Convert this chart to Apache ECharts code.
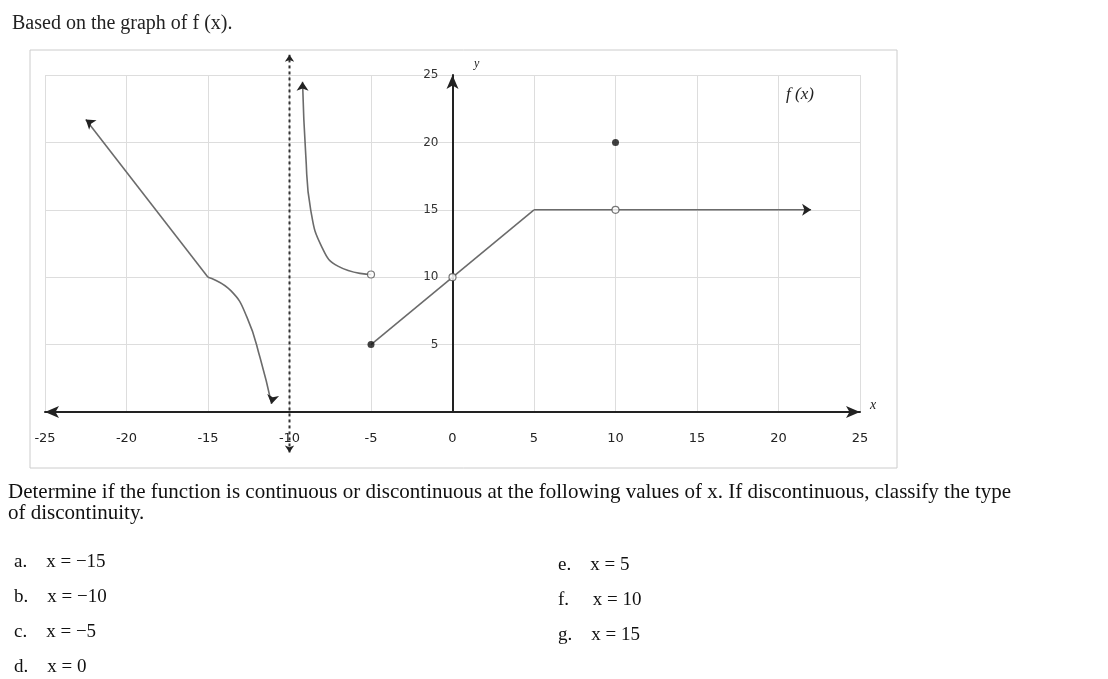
<!DOCTYPE html><html><head><meta charset="utf-8">
<script src="https://cdn.jsdelivr.net/npm/echarts@6/dist/echarts.min.js"></script>
<style>html,body{margin:0;background:#fff}#c{width:1108px;height:679px}</style></head><body><div id="c"></div>
<script>
const leftLine=[[-22.5,21.7],[-15,10]];
const leftCurve=[[-15,10],[-13.6,9],[-12.6,7],[-11.8,4],[-11.1,0.6]];
const asymptote=[[-10,-3],[-10,26.5]];
const midCurve=[[-9.2,24.5],[-9,19],[-8.7,15],[-8,12.2],[-7,10.8],[-5,10.2]];
const rampLine=[[-5,5],[5,15]];
const flatLine=[[5,15],[22,15]];
const openPts=[[-5,10.2],[0,10],[10,15]];
const closedPts=[[-5,5],[10,20]];
const c=echarts.init(document.getElementById('c'));
const gray='#6b6b6b';
function line(d,extra){return Object.assign({type:'line',data:d,showSymbol:false,clip:false,lineStyle:{color:gray,width:1.6},silent:true},extra||{});}
const serif='"Liberation Serif"';
c.setOption({animation:false,
grid:{left:45,top:75,width:815,height:337},
xAxis:{type:'value',min:-25,max:25,interval:5,axisLine:{lineStyle:{color:'#222',width:2},symbol:['arrow','arrow'],symbolSize:[9,14]},axisTick:{show:false},axisLabel:{margin:20,color:'#222',fontSize:13,fontFamily:'DejaVu Sans'},splitLine:{lineStyle:{color:'#ddd'}}},
yAxis:{type:'value',min:0,max:25,interval:5,offset:-407.5,axisLine:{onZero:false,lineStyle:{color:'#222',width:2},symbol:['none','arrow'],symbolSize:[9,14]},axisTick:{show:false},axisLabel:{showMinLabel:false,margin:14,color:'#333',fontSize:12,fontFamily:'DejaVu Sans'},splitLine:{lineStyle:{color:'#ddd'}}},
series:[
line(leftLine,{showSymbol:true,data:leftLine.map((p,i)=>i==0?{value:p,symbol:'arrow',symbolSize:9,symbolRotate:52,itemStyle:{color:'#222'}}:{value:p,symbol:'none'})}),
line(leftCurve,{smooth:true,showSymbol:true,data:leftCurve.map((p,i)=>i==leftCurve.length-1?{value:p,symbol:'arrow',symbolSize:9,symbolRotate:170,itemStyle:{color:'#222'}}:{value:p,symbol:'none'})}),
line(asymptote,{lineStyle:{color:'#333',width:2,type:[3,3]},showSymbol:true,data:asymptote.map((p,i)=>({value:p,symbol:'arrow',symbolSize:7,symbolRotate:i==0?180:0,itemStyle:{color:'#222'}}))}),
line(midCurve,{smooth:true,showSymbol:true,data:midCurve.map((p,i)=>i==0?{value:p,symbol:'arrow',symbolSize:9,symbolRotate:0,itemStyle:{color:'#222'}}:{value:p,symbol:'none'})}),
line(rampLine),
line(flatLine,{showSymbol:true,data:flatLine.map((p,i)=>i==1?{value:p,symbol:'arrow',symbolSize:9,symbolRotate:-90,itemStyle:{color:'#222'}}:{value:p,symbol:'none'})}),
{type:'scatter',data:openPts,symbol:'circle',symbolSize:7,itemStyle:{color:'#fff',borderColor:'#555',borderWidth:1.2},z:5},
{type:'scatter',data:closedPts,symbol:'circle',symbolSize:7,itemStyle:{color:'#111'},z:5}
],
graphic:[
{type:'rect',shape:{x:30,y:50,width:867,height:418},style:{fill:'none',stroke:'#ccc'}},
{type:'text',left:12,top:14,style:{text:'Based on the graph of f (x).',font:'20px '+serif,fill:'#222'}},
{type:'text',left:786,top:86,style:{text:'f (x)',font:'italic 17px '+serif,fill:'#222'}},
{type:'text',left:474,top:58,style:{text:'y',font:'italic 12px '+serif,fill:'#222'}},
{type:'text',left:870,top:398,style:{text:'x',font:'italic 14px '+serif,fill:'#222'}},
{type:'text',left:8,top:482,style:{text:'Determine if the function is continuous or discontinuous at the following values of x. If discontinuous, classify the type\nof discontinuity.',font:'21px '+serif,lineHeight:21,fill:'#111'}},
{type:'text',left:14,top:553,style:{text:'a.    x = −15\n\nb.    x = −10\n\nc.    x = −5\n\nd.    x = 0',font:'19px '+serif,lineHeight:17.5,fill:'#111'}},
{type:'text',left:558,top:556,style:{text:'e.    x = 5\n\nf.     x = 10\n\ng.    x = 15',font:'19px '+serif,lineHeight:17.5,fill:'#111'}}
]});
</script></body></html>
